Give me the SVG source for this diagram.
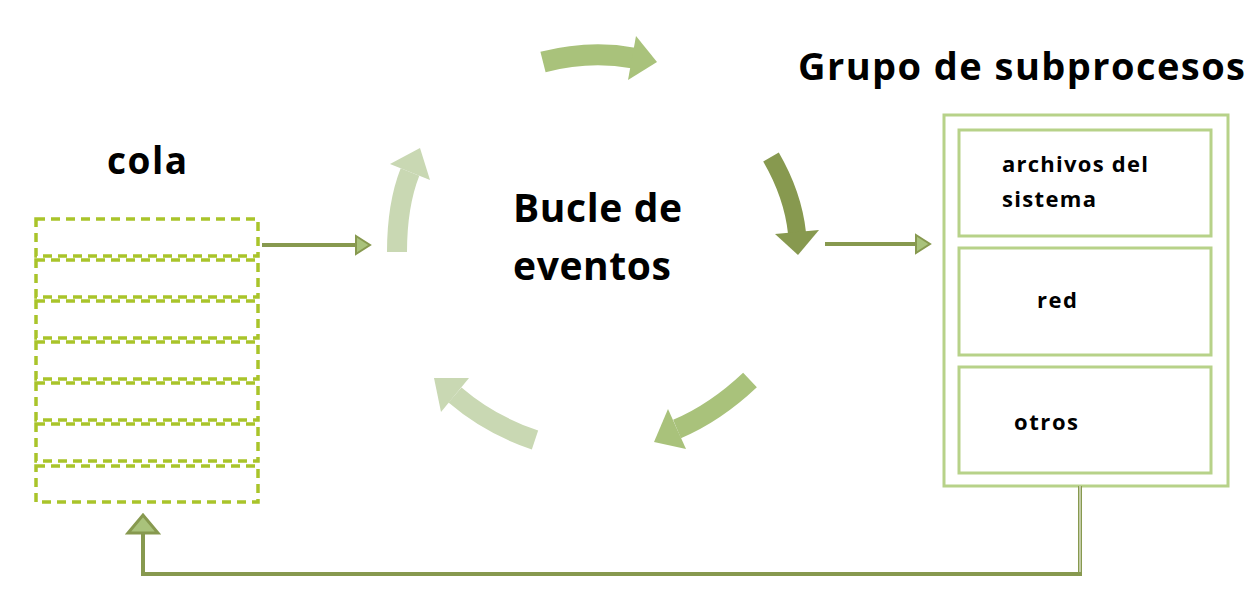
<svg xmlns="http://www.w3.org/2000/svg" width="1256" height="610" viewBox="0 0 1256 610">
<style>
.t{font-family:"Open Sans","Liberation Sans",sans-serif;font-weight:bold;fill:#000}
.q{fill:none;stroke:#a9c42a;stroke-width:3.5;stroke-dasharray:9,6}
.b{fill:#fff;stroke:#b7d289;stroke-width:3}
.c{fill:none;stroke:#87994f;stroke-width:4}
</style>
<rect width="1256" height="610" fill="#fff"/>
<g id="cola">
<text class="t" x="107" y="174" font-size="37" textLength="80">cola</text>
<rect class="q" x="36" y="219" width="222" height="37"/>
<rect class="q" x="36" y="260" width="222" height="37"/>
<rect class="q" x="36" y="301" width="222" height="37"/>
<rect class="q" x="36" y="342" width="222" height="37"/>
<rect class="q" x="36" y="383" width="222" height="37"/>
<rect class="q" x="36" y="424" width="222" height="37"/>
<rect class="q" x="36" y="466" width="222" height="36"/>
</g>
<g id="bucle">
<text class="t" x="513" y="222" font-size="39" textLength="169">Bucle de</text>
<text class="t" x="513" y="280" font-size="39" textLength="158">eventos</text>
<path d="M543,62 Q590,50 633,58" fill="none" stroke="#a9c27b" stroke-width="21"/>
<polygon points="636,36 657,62 628,80" fill="#a9c27b"/>
<path d="M771,157 Q793,195 797,233" fill="none" stroke="#87994f" stroke-width="18"/>
<polygon points="775,234 819,230 798,255" fill="#87994f"/>
<path d="M750,380 Q715,413 677,429" fill="none" stroke="#a9c27b" stroke-width="20"/>
<polygon points="668,409 686,449 654,442" fill="#a9c27b"/>
<path d="M535,440 Q490,425 455,395" fill="none" stroke="#c9d8b3" stroke-width="20"/>
<polygon points="469,378 441,412 434,378" fill="#c9d8b3"/>
<path d="M397,252 Q397,205 410,172" fill="none" stroke="#c9d8b3" stroke-width="20"/>
<polygon points="430,180 390,164 420,148" fill="#c9d8b3"/>
</g>
<g id="grupo">
<text class="t" x="798" y="80" font-size="38" textLength="447">Grupo de subprocesos</text>
<rect class="b" x="944" y="115" width="284" height="371"/>
<rect class="b" x="959" y="130" width="252" height="106"/>
<rect class="b" x="959" y="248" width="252" height="107"/>
<rect class="b" x="959" y="367" width="252" height="106"/>
<text class="t" x="1002" y="172" font-size="22" textLength="146">archivos del</text>
<text class="t" x="1002" y="207" font-size="22" textLength="94">sistema</text>
<text class="t" x="1037" y="308" font-size="22" textLength="40">red</text>
<text class="t" x="1014" y="430" font-size="22" textLength="64">otros</text>
</g>
<g id="connectors">
<line class="c" x1="262" y1="245" x2="358" y2="245"/>
<polygon points="356,236 370,245 356,254" fill="#a9c27b" stroke="#87994f" stroke-width="2"/>
<line class="c" x1="825" y1="244" x2="918" y2="244"/>
<polygon points="916,235 930,244 916,253" fill="#a9c27b" stroke="#87994f" stroke-width="2"/>
<path d="M1080,486 V574 H143 V532" fill="none" stroke="#87994f" stroke-width="4"/>
<line x1="1080" y1="486" x2="1080" y2="572" stroke="#fff" stroke-width="1"/>
<polygon points="128,533 143,515 158,533" fill="#a9c27b" stroke="#87994f" stroke-width="3"/>
</g>
</svg>
